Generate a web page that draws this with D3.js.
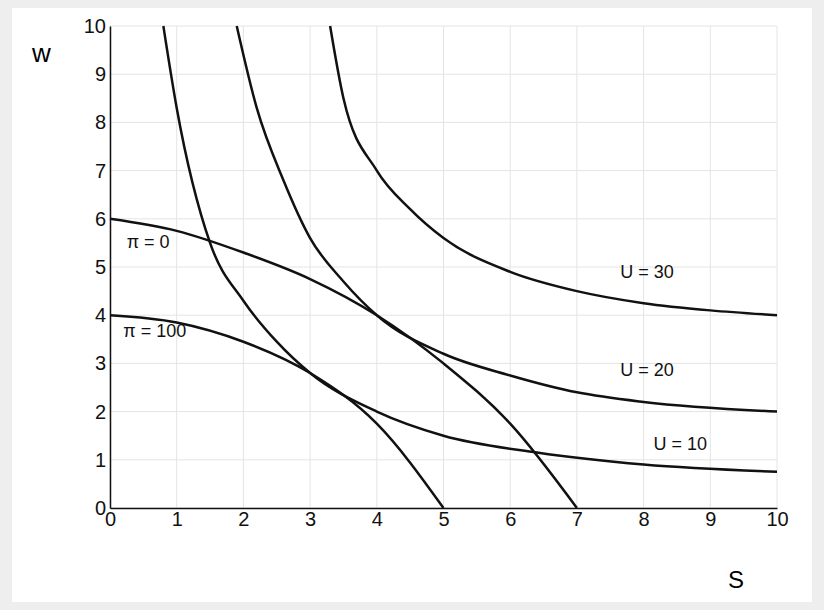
<!DOCTYPE html><html><head><meta charset="utf-8"><script src="https://cdn.jsdelivr.net/npm/d3@7"></script>
<style>body{margin:0;background:#eeeeee}</style></head><body><svg id="c" width="824" height="610"></svg>
<script>
const xTicks=[0,1,2,3,4,5,6,7,8,9,10];
const yTicks=[0,1,2,3,4,5,6,7,8,9,10];
const u10=[[0.8,10],[1.0,8.3],[1.5,5.5],[2,4.3],[2.5,3.45],[3,2.8],[4,2.0],[5,1.5],[6.4,1.15],[8,0.9],[10,0.75]];
const u20=[[1.9,10],[2.2,8.3],[2.6,6.8],[3,5.6],[3.5,4.7],[4,4],[5,3.2],[6,2.75],[7,2.4],[8,2.2],[10,2.0]];
const u30=[[3.3,10],[3.5,8.5],[4,7],[4.5,6.2],[5,5.6],[6,4.9],[7,4.5],[8,4.25],[9,4.1],[10,4.0]];
const pi0=[[0,6],[1,5.75],[2,5.3],[3,4.75],[4,4],[5,3],[6,1.75],[7,0]];
const pi100=[[0,4],[1,3.85],[2,3.45],[3,2.8],[4,1.75],[5,0]];
const labels=[["π = 0",0.25,5.4],["π = 100",0.2,3.55],["U = 30",7.65,4.77],["U = 20",7.65,2.74],["U = 10",8.15,1.2]];
const svg=d3.select("#c");
svg.append("rect").attr("x",12).attr("y",8).attr("width",800).attr("height",594).attr("fill","#fff");
const x=d3.scaleLinear().domain([0,10]).range([110,777]);
const y=d3.scaleLinear().domain([0,10]).range([508,26]);
const g=svg.append("g");
g.selectAll(".vx").data(xTicks).join("line").attr("x1",d=>x(d)).attr("x2",d=>x(d)).attr("y1",y(0)).attr("y2",y(10)).attr("stroke","#e4e4e4");
g.selectAll(".hy").data(yTicks).join("line").attr("y1",d=>y(d)).attr("y2",d=>y(d)).attr("x1",x(0)).attr("x2",x(10)).attr("stroke","#e4e4e4");
const ax=svg.append("g").attr("transform",`translate(0,${y(0)})`).call(d3.axisBottom(x).tickValues(xTicks).tickSize(0).tickPadding(4));
const ay=svg.append("g").attr("transform",`translate(${x(0)},0)`).call(d3.axisLeft(y).tickValues(yTicks).tickSize(0).tickPadding(4));
[ax,ay].forEach(a=>{a.selectAll("text").attr("font-family","Liberation Sans, Arial").attr("font-size",20).attr("fill","#111");a.select(".domain").attr("stroke","#111").attr("stroke-width",1.5);});
const line=d3.line().x(d=>x(d[0])).y(d=>y(d[1])).curve(d3.curveMonotoneX);
[u10,u20,u30,pi0,pi100].forEach(s=>svg.append("path").attr("d",line(s)).attr("fill","none").attr("stroke","#111").attr("stroke-width",2.5));
svg.selectAll(".lab").data(labels).join("text").attr("x",d=>x(d[1])).attr("y",d=>y(d[2])).text(d=>d[0]).attr("font-family","Liberation Sans, Arial").attr("font-size",18).attr("fill","#111");
svg.append("text").attr("x",32).attr("y",62).text("w").attr("font-family","Liberation Sans, Arial").attr("font-size",26);
svg.append("text").attr("x",728).attr("y",588).text("S").attr("font-family","Liberation Sans, Arial").attr("font-size",24);
</script></body></html>
